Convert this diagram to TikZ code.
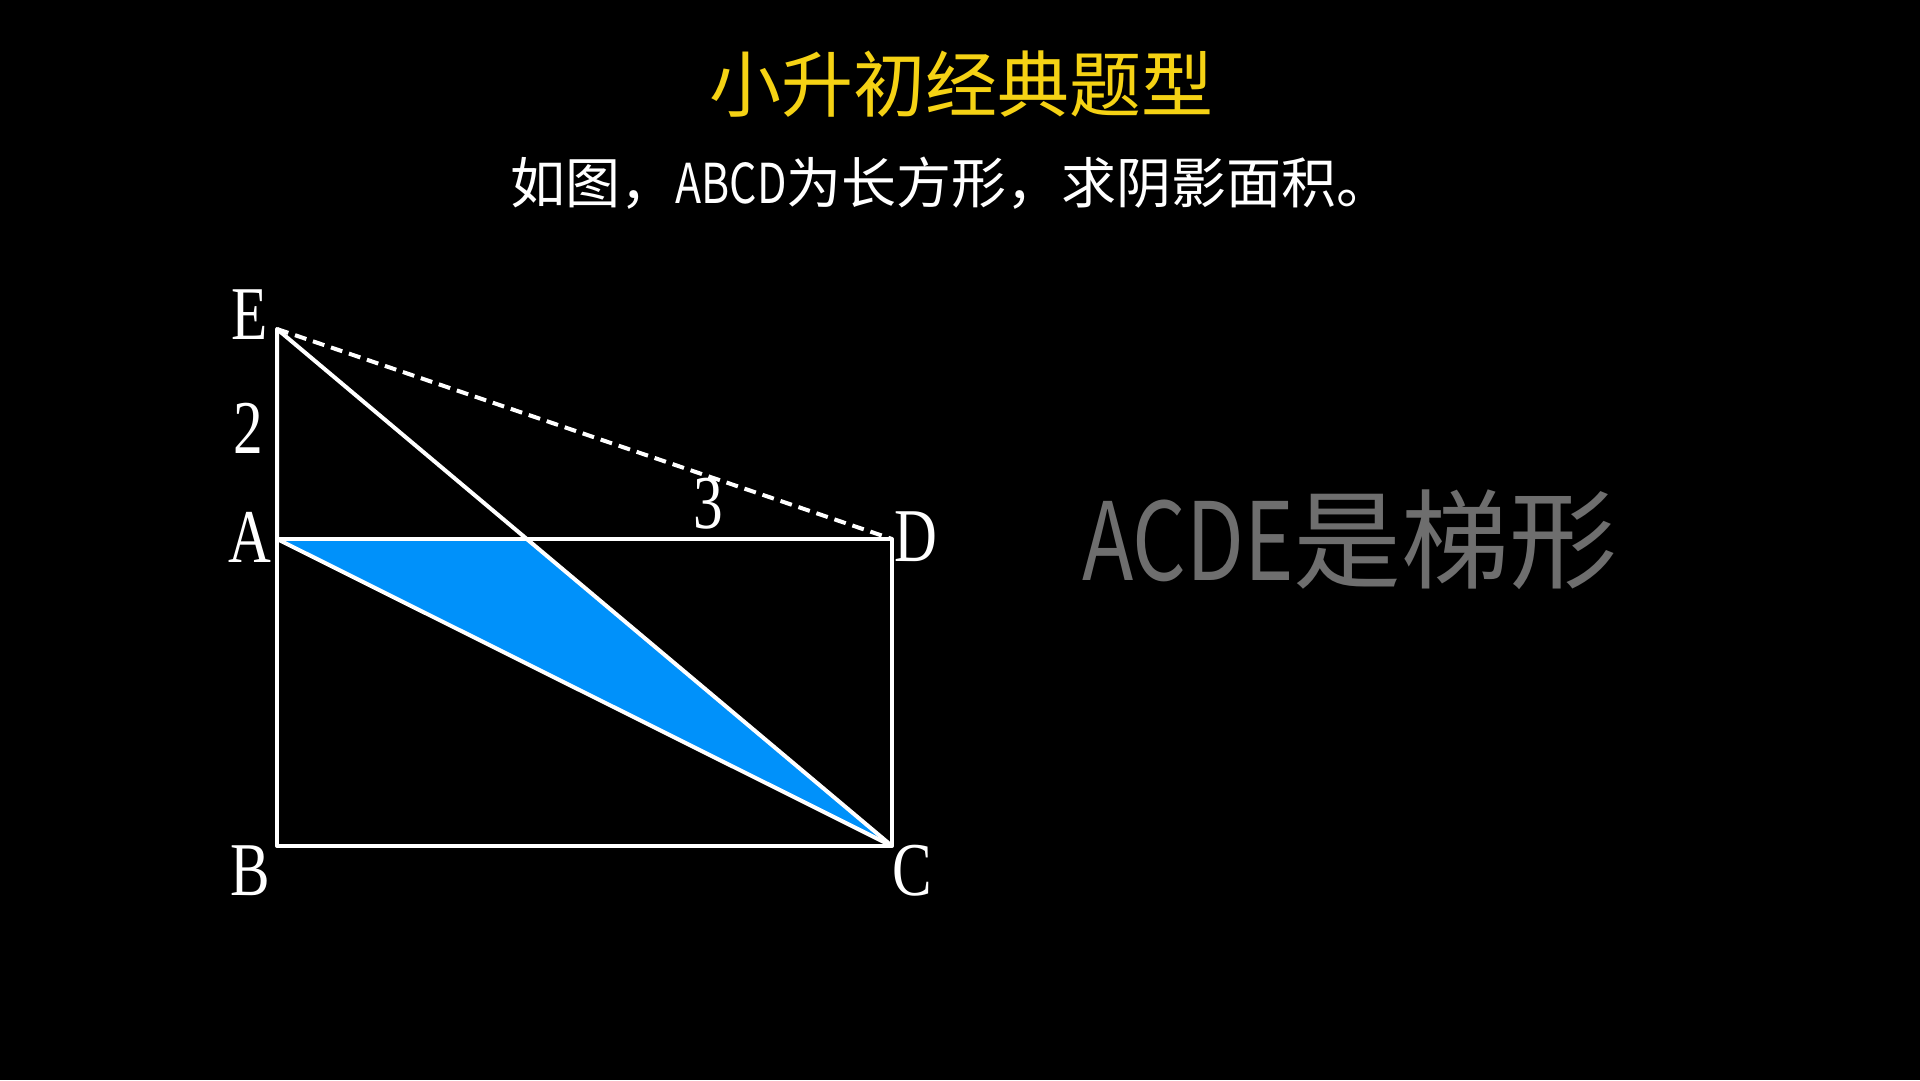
\documentclass[tikz,border=0pt]{standalone}
\usepackage{fontspec}
\setmainfont{Liberation Serif}
\newfontfamily\cjk{Noto Sans CJK SC}
\newfontfamily\cjknarrow[FakeStretch=0.78]{Noto Sans CJK SC}
\newfontfamily\labelfont[FakeStretch=0.78]{Liberation Serif}
\usetikzlibrary{calc}
\definecolor{titleyellow}{RGB}{245,210,20}
\definecolor{shadeblue}{RGB}{0,145,250}
\definecolor{notegray}{RGB}{110,110,110}

\begin{document}
\begin{tikzpicture}[x=1pt,y=-1pt,
	edge/.style={draw=white,line width=4pt,line join=round},
	ptlabel/.style={text=white,inner sep=0pt,font=\labelfont\fontsize{76}{76}\selectfont}]
			%%%%% START %%%%%
			
			\fill[black] (0, 0) rectangle (1920, 1080);
			
			\node[text=titleyellow, inner sep=0pt, font=\cjk\fontsize{72}{72}\selectfont] (title) at (961, 84) {小升初经典题型};
			\node[text=white, inner sep=0pt, font=\cjk\fontsize{55}{55}\selectfont] (question) at (951, 183) {如图，{\cjknarrow ABCD}为长方形，求阴影面积。};
			
			\coordinate (E) at (277, 329);
			\coordinate (A) at (277, 539);
			\coordinate (D) at (892, 539);
			\coordinate (B) at (277, 846);
			\coordinate (C) at (892, 846);
			\coordinate (F) at (intersection of E--C and A--D);
			
			\fill[shadeblue] (A) -- (F) -- (C) -- cycle;
			
			\draw[edge] (B) rectangle (D);
			\draw[edge] (A) -- (E) -- (C);
			\draw[edge] (A) -- (C);
			\draw[edge, dash pattern=on 12pt off 7pt] (E) -- (D);
			
			\node[ptlabel] (labelE) at (250, 315) {E};
			\node[ptlabel] (labelA) at (250, 537) {A};
			\node[ptlabel] (labelD) at (916, 537) {D};
			\node[ptlabel] (labelB) at (250, 871) {B};
			\node[ptlabel] (labelC) at (912, 871) {C};
			\node[ptlabel] (lenEA) at (248, 428) {2};
			\node[ptlabel] (lenAD) at (708, 504) {3};
			
			\node[text=notegray, inner sep=0pt, font=\cjk\fontsize{108}{108}\selectfont] (note) at (1350, 540) {{\cjknarrow ACDE}是梯形};
			
			%%%%% END %%%%%
\end{tikzpicture}
\end{document}
